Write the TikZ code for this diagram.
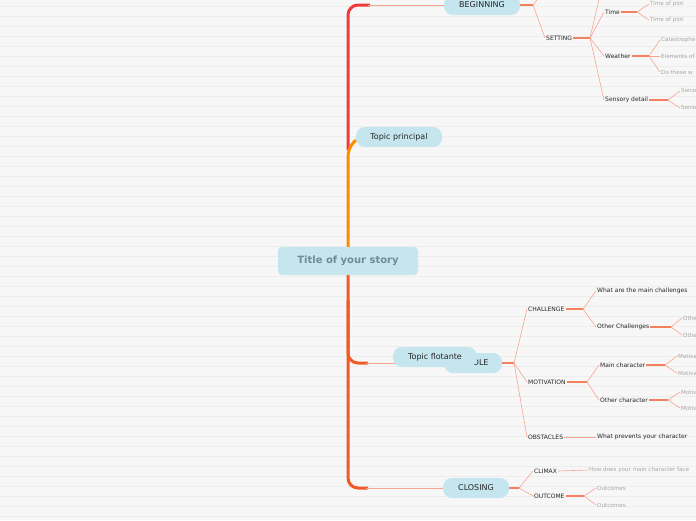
\documentclass[tikz,border=0pt]{standalone}
\usepackage{fontspec}
\setmainfont{DejaVu Sans}
\begin{document}
\begin{tikzpicture}[x=1pt,y=-1pt,
  topic/.style={fill=topicblue,rounded corners=9pt,minimum height=20pt,inner xsep=8pt,font=\fontsize{8}{9}\selectfont,text=black!85},
  sub/.style={anchor=west,inner sep=1pt,font=\fontsize{6}{7}\selectfont,text=black!85},
  leaf/.style={anchor=west,inner sep=1pt,font=\fontsize{5.6}{6}\selectfont,text=black!35},
  ln/.style={draw=linesal,line width=0.6pt},
  stub/.style={draw=stubsal,line width=1.2pt}]
\definecolor{topicblue}{HTML}{C5E5EF}
\definecolor{linesal}{HTML}{F7A591}
\definecolor{stubsal}{HTML}{F4805E}
\definecolor{spred}{HTML}{EE3B3B}
\definecolor{sporange}{HTML}{FF8C00}
\definecolor{spdeep}{HTML}{F05A28}
\definecolor{titletext}{HTML}{6E8C96}
\useasboundingbox (0,0) rectangle (696,520);
\clip (0,0) rectangle (696,520);
\fill[black!3] (0,0) rectangle (696,520);
\foreach \y in {6.5,16.5,...,520} \draw[black!7,line width=0.6pt] (0,\y) -- (696,\y);
% spine
\draw[spred,line width=3pt,rounded corners=10pt] (348,150) -- (348,5) -- (370,5);
\draw[ln] (368,5) -- (445,5);
\draw[sporange,line width=3pt,rounded corners=8pt] (348,250) -- (348,148) -- (356,140);
\draw[spdeep,line width=3pt,rounded corners=10pt] (348,262) -- (348,488) -- (368,488);
\draw[spdeep,line width=3pt,rounded corners=10pt] (348,300) -- (348,363) -- (368,363);
\draw[ln] (366,363) -- (445,363);
\draw[ln] (366,488) -- (445,488);
% nodes
\node[topic,minimum width=140pt,minimum height=28pt,rounded corners=4pt,font=\fontsize{10}{11}\selectfont\bfseries,text=titletext] (title) at (348,261) {Title of your story};
\node[topic,minimum width=76pt] (beg) at (482,5) {BEGINNING};
\node[topic,minimum width=86pt] (tp) at (399,137) {Topic principal};
\node[topic,minimum width=58pt] (mid) at (473,363) {MIDDLE};
\node[topic,minimum width=84pt] (tf) at (435,357) {Topic flotante};
\node[topic,minimum width=66pt] (clo) at (476,488) {CLOSING};
% BEGINNING
\coordinate (fb) at (533,5);
\draw[stub] (beg.east) -- (fb);
\draw[ln] (fb) -- (545,-10);
\node[sub] (set) at (545,38) {SETTING};
\draw[ln] (fb) -- (set.west);
\coordinate (fs) at (590,38);
\draw[stub] (set.east) -- (fs);
\node[sub] (time) at (604,12) {Time};
\node[sub] (wea) at (604,56) {Weather};
\node[sub] (sen) at (604,100) {Sensory detail};
\draw[ln] (fs) -- (600,-5);
\foreach \n in {time,wea,sen} \draw[ln] (fs) -- (\n.west);
\coordinate (ft) at (637,12);
\draw[stub] (time.east) -- (ft);
\node[leaf] (t1) at (649,4) {Time of plot};
\node[leaf] (t2) at (649,20) {Time of plot};
\foreach \n in {t1,t2} \draw[ln] (ft) -- (\n.west);
\coordinate (fw) at (649,56);
\draw[stub] (wea.east) -- (fw);
\node[leaf] (w1) at (660,40) {Catastrophe};
\node[leaf] (w2) at (660,56) {Elements of};
\node[leaf] (w3) at (660,72) {Do these w};
\foreach \n in {w1,w2,w3} \draw[ln] (fw) -- (\n.west);
\coordinate (fse) at (668,100);
\draw[stub] (sen.east) -- (fse);
\node[leaf] (s1) at (680,91) {Sensory};
\node[leaf] (s2) at (680,108) {Sensory};
\foreach \n in {s1,s2} \draw[ln] (fse) -- (\n.west);
% MIDDLE
\coordinate (fm) at (514,363);
\draw[stub] (mid.east) -- (fm);
\node[sub] (cha) at (527,309) {CHALLENGE};
\node[sub] (mot) at (527,382) {MOTIVATION};
\node[sub] (obs) at (527,437) {OBSTACLES};
\foreach \n in {cha,mot,obs} \draw[ln] (fm) -- (\n.west);
\coordinate (fc) at (583,309);
\draw[stub] (cha.east) -- (fc);
\node[sub] (c1) at (596,291) {What are the main challenges};
\node[sub] (c2) at (596,327) {Other Challenges};
\foreach \n in {c1,c2} \draw[ln] (fc) -- (\n.west);
\coordinate (fc2) at (671,327);
\draw[stub] (c2.east) -- (fc2);
\node[leaf] (o1) at (682,318) {Other};
\node[leaf] (o2) at (682,335) {Other};
\foreach \n in {o1,o2} \draw[ln] (fc2) -- (\n.west);
\coordinate (fmo) at (587,382);
\draw[stub] (mot.east) -- (fmo);
\node[sub] (m1) at (599,365) {Main character};
\node[sub] (m2) at (599,400) {Other character};
\foreach \n in {m1,m2} \draw[ln] (fmo) -- (\n.west);
\coordinate (fm1) at (665,365);
\draw[stub] (m1.east) -- (fm1);
\node[leaf] (a1) at (677,356) {Motivation};
\node[leaf] (a2) at (677,373) {Motivation};
\foreach \n in {a1,a2} \draw[ln] (fm1) -- (\n.west);
\coordinate (fm2) at (668,400);
\draw[stub] (m2.east) -- (fm2);
\node[leaf] (b1) at (680,392) {Motivation};
\node[leaf] (b2) at (680,408) {Motivation};
\foreach \n in {b1,b2} \draw[ln] (fm2) -- (\n.west);
\node[sub] (ob1) at (596,437) {What prevents your character};
\draw[ln] (obs.east) -- (ob1.west);
% CLOSING
\coordinate (fcl) at (519,488);
\draw[stub] (clo.east) -- (fcl);
\node[sub] (cli) at (533,471) {CLIMAX};
\node[sub] (out) at (533,496) {OUTCOME};
\foreach \n in {cli,out} \draw[ln] (fcl) -- (\n.west);
\node[leaf] (cl1) at (588,470) {How does your main character face};
\draw[ln] (cli.east) -- (cl1.west);
\coordinate (fo) at (584,496);
\draw[stub] (out.east) -- (fo);
\node[leaf] (u1) at (596,488) {Outcomes};
\node[leaf] (u2) at (596,505) {Outcomes};
\foreach \n in {u1,u2} \draw[ln] (fo) -- (\n.west);
\end{tikzpicture}
\end{document}
